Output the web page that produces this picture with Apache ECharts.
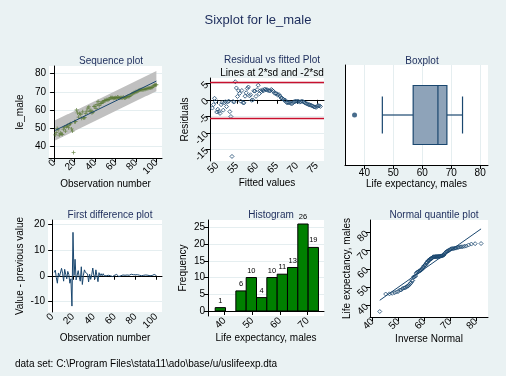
<!DOCTYPE html>
<html>
<head>
<meta charset="utf-8">
<script src="https://cdn.jsdelivr.net/npm/echarts@6/dist/echarts.min.js"></script>
<style>
html, body { margin: 0; padding: 0; background: #eaf2f3; }
#main { width: 506px; height: 376px; }
</style>
</head>
<body>
<div id="main"></div>
<script>
var leMale = [
	46.3, 47.6, 49.8, 49.1, 46.2, 47.3, 46.9, 46.6, 49.5, 50.5,
	48.4, 50.9, 51.5, 50.3, 52.0, 52.5, 49.6, 48.4, 36.6, 53.5,
	53.6, 60.0, 58.4, 56.1, 58.1, 57.6, 55.5, 59.0, 55.6, 55.8,
	58.1, 59.4, 61.0, 61.7, 59.3, 59.9, 58.5, 58.9, 61.9, 62.1,
	60.8, 63.1, 64.7, 62.4, 63.6, 63.6, 64.4, 64.4, 65.2, 65.2,
	65.6, 65.6, 65.8, 66.0, 66.7, 66.7, 66.7, 66.4, 66.6, 66.8,
	66.6, 67.1, 66.9, 66.6, 66.8, 66.8, 66.7, 67.0, 66.6, 66.8,
	67.1, 67.4, 67.4, 67.6, 68.2, 68.8, 69.1, 69.5, 69.6, 70.0,
	70.0, 70.4, 70.8, 71.0, 71.1, 71.1, 71.2, 71.4, 71.4, 71.7,
	71.8, 72.0, 72.1, 72.1, 72.4, 72.5, 73.1, 73.6, 73.8, 73.9
]
// histogram counts, as labelled on the bars (10 bins)
var histCounts = [1, 0, 6, 10, 4, 10, 11, 13, 26, 19]

// tick labels
var obsTicks = [0, 20, 40, 60, 80, 100]
var seqYTicks = [40, 50, 60, 70, 80]
var fitTicks = [50, 55, 60, 65, 70, 75]
var residTicks = [-15, -10, -5, 0, 5]
var boxTicks = [40, 50, 60, 70, 80]
var diffTicks = [-10, 0, 10, 20]
var histXTicks = [40, 50, 60, 70]
var histYTicks = [0, 5, 10, 15, 20, 25]
var qnTicks = [40, 50, 60, 70, 80]

var navy = "#1a476f"
var titleColor = "#1c2c5b"
var gridColor = "#e5eef0"
var font = "Liberation Sans, Arial, sans-serif"

// ---- derived statistics ----
var n = leMale.length
var obs = leMale.map(function(v, i) { return i + 1 })
var mean = function(a) { return a.reduce(function(s, v) { return s + v }, 0) / a.length }
var xbar = mean(obs), ybar = mean(leMale)
var sxx = 0, sxy = 0
obs.forEach(function(x, i) {
	sxx += (x - xbar) * (x - xbar)
	sxy += (x - xbar) * (leMale[i] - ybar)
})
var slope = sxy / sxx
var icpt = ybar - slope * xbar
var fitted = obs.map(function(x) { return icpt + slope * x })
var resid = leMale.map(function(v, i) { return v - fitted[i] })
var rss = resid.reduce(function(s, r) { return s + r * r }, 0)
var rmse = Math.sqrt(rss / (n - 2))
var sdRes = Math.sqrt(rss / (n - 1))
// forecast interval around the fit
var bandLo = [], bandHi = []
obs.forEach(function(x, i) {
	var se = rmse * Math.sqrt(1 + 1 / n + (x - xbar) * (x - xbar) / sxx)
	bandLo.push([x, fitted[i] - 1.984 * se])
	bandHi.push([x, fitted[i] + 1.984 * se])
})
var diffs = []
for (var i = 1; i < n; i++) diffs.push([i + 1, +(leMale[i] - leMale[i - 1]).toFixed(2)])

var sorted = leMale.slice().sort(function(a, b) { return a - b })
function pctl(p) {
	var np = n * p / 100, j = Math.floor(np), g = np - j
	if (g > 0) return sorted[j]
	return (sorted[j - 1] + sorted[j]) / 2
}
var q1 = pctl(25), med = pctl(50), q3 = pctl(75), iqr = q3 - q1
var loAdj = sorted.filter(function(v) { return v >= q1 - 1.5 * iqr })[0]
var hiAdj = sorted.filter(function(v) { return v <= q3 + 1.5 * iqr }).pop()
var outliers = sorted.filter(function(v) { return v < loAdj || v > hiAdj })

var dmin = sorted[0], dmax = sorted[n - 1]
var binW = (dmax - dmin) / histCounts.length

var sd = Math.sqrt(leMale.reduce(function(s, v) { return s + (v - ybar) * (v - ybar) }, 0) / (n - 1))
function invNorm(p) {
	var a = [-3.969683028665376e+01, 2.209460984245205e+02, -2.759285104469687e+02, 1.383577518672690e+02, -3.066479806614716e+01, 2.506628277459239e+00]
	var b = [-5.447609879822406e+01, 1.615858368580409e+02, -1.556989798598866e+02, 6.680131188771972e+01, -1.328068155288572e+01]
	var c = [-7.784894002430293e-03, -3.223964580411365e-01, -2.400758277161838e+00, -2.549732539343734e+00, 4.374664141464968e+00, 2.938163982698783e+00]
	var d = [7.784695709041462e-03, 3.224671290700398e-01, 2.445134137142996e+00, 3.754408661907416e+00]
	var q, r
	if (p < 0.02425) {
		q = Math.sqrt(-2 * Math.log(p))
		return (((((c[0] * q + c[1]) * q + c[2]) * q + c[3]) * q + c[4]) * q + c[5]) / ((((d[0] * q + d[1]) * q + d[2]) * q + d[3]) * q + 1)
	}
	if (p <= 1 - 0.02425) {
		q = p - 0.5; r = q * q
		return (((((a[0] * r + a[1]) * r + a[2]) * r + a[3]) * r + a[4]) * r + a[5]) * q / (((((b[0] * r + b[1]) * r + b[2]) * r + b[3]) * r + b[4]) * r + 1)
	}
	q = Math.sqrt(-2 * Math.log(1 - p))
	return -(((((c[0] * q + c[1]) * q + c[2]) * q + c[3]) * q + c[4]) * q + c[5]) / ((((d[0] * q + d[1]) * q + d[2]) * q + d[3]) * q + 1)
}
var qnPts = sorted.map(function(v, i) { return [ybar + sd * invNorm((i + 1) / (n + 1)), v] })
var qnLine = [[qnPts[0][0], qnPts[0][0]], [qnPts[n - 1][0], qnPts[n - 1][0]]]

// ---- axis helpers ----
function valAxis(gi, min, max, ticks, opts) {
	opts = opts || {}
	return {
		type: "value",
		gridIndex: gi,
		min: min,
		max: max,
		name: opts.name || "",
		nameLocation: "middle",
		nameGap: opts.nameGap || 20,
		nameTextStyle: { color: "#000", fontSize: 10, fontFamily: font },
		axisLine: { show: true, lineStyle: { color: "#000", width: 1 } },
		axisTick: { show: !opts.noTicks, length: 4, lineStyle: { color: "#000" }, customValues: ticks },
		axisLabel: {
			show: !opts.noTicks,
			customValues: ticks,
			rotate: opts.rotate || 0,
			color: "#000",
			fontSize: 10,
			fontFamily: font,
			margin: 3
		},
		splitLine: { show: !!opts.grid, lineStyle: { color: gridColor, width: 1 } }
	}
}

var plusSym = "path://M4,0H6V4H10V6H6V10H4V6H0V4H4Z"

var option = {
	backgroundColor: "#eaf2f3",
	animation: false,
	textStyle: { fontFamily: font },
	title: [
		{ text: "Sixplot for le_male", left: 253, top: 9, textAlign: "center", textStyle: { color: titleColor, fontSize: 13, fontWeight: "normal" } },
		{ text: "Sequence plot", left: 106, top: 51, textAlign: "center", textStyle: { color: titleColor, fontSize: 10, fontWeight: "normal" } },
		{ text: "Residual vs fitted Plot", left: 267, top: 50, textAlign: "center", textStyle: { color: titleColor, fontSize: 10, fontWeight: "normal" } },
		{ text: "Lines at 2*sd and -2*sd", left: 267, top: 63, textAlign: "center", textStyle: { color: "#000", fontSize: 10, fontWeight: "normal" } },
		{ text: "Boxplot", left: 417, top: 51, textAlign: "center", textStyle: { color: titleColor, fontSize: 10, fontWeight: "normal" } },
		{ text: "First difference plot", left: 105, top: 205, textAlign: "center", textStyle: { color: titleColor, fontSize: 10, fontWeight: "normal" } },
		{ text: "Histogram", left: 266, top: 205, textAlign: "center", textStyle: { color: titleColor, fontSize: 10, fontWeight: "normal" } },
		{ text: "Normal quantile plot", left: 429, top: 205, textAlign: "center", textStyle: { color: titleColor, fontSize: 10, fontWeight: "normal" } },
		{ text: "data set: C:\\Program Files\\stata11\\ado\\base/u/uslifeexp.dta", left: 10, top: 354, textStyle: { color: "#000", fontSize: 10, fontWeight: "normal" } }
	],
	grid: [
		{ left: 49, top: 66, width: 113, height: 92, backgroundColor: "#fff", show: true, borderWidth: 0 },
		{ left: 210, top: 78, width: 114, height: 83, backgroundColor: "#fff", show: true, borderWidth: 0 },
		{ left: 345, top: 65, width: 143, height: 100, backgroundColor: "#fff", show: true, borderWidth: 0 },
		{ left: 48, top: 220, width: 114, height: 92, backgroundColor: "#fff", show: true, borderWidth: 0 },
		{ left: 208, top: 220, width: 116, height: 96, backgroundColor: "#fff", show: true, borderWidth: 0 },
		{ left: 370, top: 220, width: 118, height: 97, backgroundColor: "#fff", show: true, borderWidth: 0 }
	],
	xAxis: [
		valAxis(0, -5, 105.5, obsTicks, { rotate: 45, name: "Observation number", nameGap: 19 }),
		valAxis(1, 48.2, 76.8, fitTicks, { rotate: 45, name: "Fitted values", nameGap: 15 }),
		valAxis(2, 33.3, 82.7, boxTicks, { name: "Life expectancy, males", nameGap: 12, grid: true }),
		valAxis(3, -4, 105.5, obsTicks, { rotate: 45, name: "Observation number", nameGap: 18 }),
		valAxis(4, 34, 75.9, histXTicks, { rotate: 45, name: "Life expectancy, males", nameGap: 15 }),
		valAxis(5, 39, 84.6, qnTicks, { rotate: 45, name: "Inverse Normal", nameGap: 15 })
	],
	yAxis: [
		valAxis(0, 33.6, 84.2, seqYTicks, { name: "le_male", nameGap: 24, grid: true }),
		valAxis(1, -18.5, 6.6, residTicks, { rotate: 45, name: "Residuals", nameGap: 20, grid: true }),
		valAxis(2, 0, 1, [], { noTicks: true }),
		valAxis(3, -14.1, 21.7, diffTicks, { name: "Value - previous value", nameGap: 23, grid: true }),
		valAxis(4, -1.5, 27.2, histYTicks, { name: "Frequency", nameGap: 20, grid: true }),
		valAxis(5, 33.6, 86.8, qnTicks, { rotate: 45, name: "Life expectancy, males", nameGap: 17 })
	],
	series: [
		// sequence plot: forecast band, points, fit
		{
			type: "custom",
			xAxisIndex: 0, yAxisIndex: 0,
			data: [0],
			silent: true,
			renderItem: function(params, api) {
				var pts = bandHi.map(function(p) { return api.coord(p) })
					.concat(bandLo.slice().reverse().map(function(p) { return api.coord(p) }))
				return { type: "polygon", shape: { points: pts }, style: { fill: "#c0c0c0" } }
			}
		},
		{
			type: "scatter", xAxisIndex: 0, yAxisIndex: 0,
			symbol: plusSym, symbolSize: 4,
			itemStyle: { color: "#55752f" },
			data: leMale.map(function(v, i) { return [obs[i], v] })
		},
		{
			type: "line", xAxisIndex: 0, yAxisIndex: 0, showSymbol: false,
			lineStyle: { color: navy, width: 1 },
			data: [[obs[0], fitted[0]], [obs[n - 1], fitted[n - 1]]]
		},
		// residual vs fitted
		{
			type: "scatter", xAxisIndex: 1, yAxisIndex: 1,
			symbol: "diamond", symbolSize: [4, 4],
			itemStyle: { color: "rgba(0,0,0,0)", borderColor: navy, borderWidth: 1 },
			data: resid.map(function(r, i) { return [fitted[i], r] }),
			markLine: {
				silent: true, symbol: "none", label: { show: false },
				lineStyle: { color: "#c8102e", width: 1.3, type: "solid" },
				data: [{ yAxis: 2 * sdRes }, { yAxis: -2 * sdRes }]
			}
		},
		// boxplot
		{
			type: "custom", xAxisIndex: 2, yAxisIndex: 2,
			data: [[loAdj, q1, med, q3, hiAdj]],
			renderItem: function(params, api) {
				var y = 0.5
				var a = api.coord([api.value(0), y]), b = api.coord([api.value(1), y])
				var m = api.coord([api.value(2), y]), c = api.coord([api.value(3), y])
				var e = api.coord([api.value(4), y])
				var hb = 29.5, hw = 18.5
				var ls = { stroke: navy, lineWidth: 1.2 }
				return {
					type: "group",
					children: [
						{ type: "line", shape: { x1: a[0], y1: a[1], x2: b[0], y2: b[1] }, style: ls },
						{ type: "line", shape: { x1: c[0], y1: c[1], x2: e[0], y2: e[1] }, style: ls },
						{ type: "line", shape: { x1: a[0], y1: a[1] - hw, x2: a[0], y2: a[1] + hw }, style: ls },
						{ type: "line", shape: { x1: e[0], y1: e[1] - hw, x2: e[0], y2: e[1] + hw }, style: ls },
						{ type: "rect", shape: { x: b[0], y: b[1] - hb, width: c[0] - b[0], height: 2 * hb }, style: { fill: "#8ea3b9", stroke: navy, lineWidth: 1.2 } },
						{ type: "line", shape: { x1: m[0], y1: m[1] - hb, x2: m[0], y2: m[1] + hb }, style: ls }
					]
				}
			}
		},
		{
			type: "scatter", xAxisIndex: 2, yAxisIndex: 2,
			symbol: "circle", symbolSize: 5,
			itemStyle: { color: navy },
			data: outliers.map(function(v) { return [v, 0.5] })
		},
		// first difference
		{
			type: "line", xAxisIndex: 3, yAxisIndex: 3, showSymbol: false,
			lineStyle: { color: navy, width: 1 },
			data: diffs
		},
		// histogram
		{
			type: "custom", xAxisIndex: 4, yAxisIndex: 4,
			data: histCounts.map(function(c, i) { return [dmin + i * binW, dmin + (i + 1) * binW, c] }),
			renderItem: function(params, api) {
				var cnt = api.value(2)
				if (!cnt) return null
				var p0 = api.coord([api.value(0), cnt]), p1 = api.coord([api.value(1), 0])
				return {
					type: "group",
					children: [
						{ type: "rect", shape: { x: p0[0], y: p0[1], width: p1[0] - p0[0], height: p1[1] - p0[1] }, style: { fill: "#008000", stroke: "#000", lineWidth: 1 } },
						{ type: "text", style: { text: String(cnt), x: (p0[0] + p1[0]) / 2, y: p0[1] - 3, align: "center", verticalAlign: "bottom", fill: "#000", fontSize: 7.5, fontFamily: font } }
					]
				}
			}
		},
		// normal quantile plot
		{
			type: "line", xAxisIndex: 5, yAxisIndex: 5, showSymbol: false,
			lineStyle: { color: navy, width: 1 },
			data: qnLine
		},
		{
			type: "scatter", xAxisIndex: 5, yAxisIndex: 5,
			symbol: "diamond", symbolSize: [4, 4],
			itemStyle: { color: "rgba(0,0,0,0)", borderColor: navy, borderWidth: 1 },
			data: qnPts
		}
	]
}

var chart = echarts.init(document.getElementById("main"))
chart.setOption(option)
</script>
</body>
</html>
